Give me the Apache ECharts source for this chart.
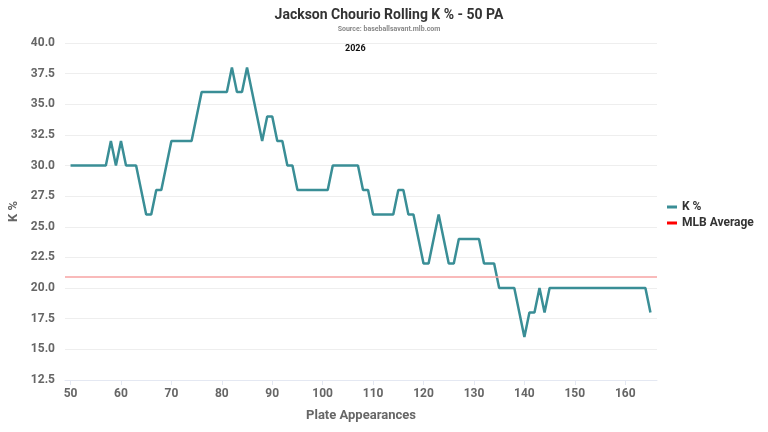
<!DOCTYPE html>
<html>
<head>
<meta charset="utf-8">
<script src="https://cdn.jsdelivr.net/npm/echarts@6/dist/echarts.min.js"></script>
<style>
  html, body { margin: 0; padding: 0; background: #fff; }
  #chart { width: 768px; height: 432px; }
</style>
</head>
<body>
<div id="chart"></div>
<script>
  // rolling K% over the last 50 PA, one value per plate appearance
  const startPA = 50;
  const kPct = [
    30, 30, 30, 30, 30, 30, 30, 30, 32, 30, // 50-59
    32, 30, 30, 30, 28, 26, 26, 28, 28, 30, // 60-69
    32, 32, 32, 32, 32, 34, 36, 36, 36, 36, // 70-79
    36, 36, 38, 36, 36, 38, 36, 34, 32, 34, // 80-89
    34, 32, 32, 30, 30, 28, 28, 28, 28, 28, // 90-99
    28, 28, 30, 30, 30, 30, 30, 30, 28, 28, // 100-109
    26, 26, 26, 26, 26, 28, 28, 26, 26, 24, // 110-119
    22, 22, 24, 26, 24, 22, 22, 24, 24, 24, // 120-129
    24, 24, 22, 22, 22, 20, 20, 20, 20, 18, // 130-139
    16, 18, 18, 20, 18, 20, 20, 20, 20, 20, // 140-149
    20, 20, 20, 20, 20, 20, 20, 20, 20, 20, // 150-159
    20, 20, 20, 20, 20, 18                  // 160-165
  ];
  const mlbAverage = 20.9;
  const xTicks = [50, 60, 70, 80, 90, 100, 110, 120, 130, 140, 150, 160];

  const seriesData = kPct.map((v, i) => [startPA + i, v]);

  const font = 'Roboto, sans-serif';
  const chart = echarts.init(document.getElementById('chart'));

  const option = {
    animation: false,
    textStyle: { fontFamily: font },
    title: {
      text: 'Jackson Chourio Rolling K % - 50 PA',
      subtext: 'Source: baseballsavant.mlb.com',
      left: 384,
      textAlign: 'center',
      top: 3,
      itemGap: 4,
      textStyle: { fontFamily: font, fontSize: 14, fontWeight: 'bold', color: '#333' },
      subtextStyle: { fontFamily: font, fontSize: 7, fontWeight: 'bold', color: '#888' },
    },
    graphic: [
      {
        type: 'text',
        left: 345,
        top: 44,
        style: { text: '2026', font: 'bold 9px ' + font, fill: '#111' },
      },
    ],
    legend: {
      orient: 'vertical',
      left: 662,
      top: 196,
      icon: 'rect',
      itemWidth: 10,
      itemHeight: 3,
      itemGap: 4,
      textStyle: { fontFamily: font, fontSize: 12, fontWeight: 'bold', color: '#333' },
      data: [
        { name: 'K %', itemStyle: { color: '#3a8e96' } },
        { name: 'MLB Average', itemStyle: { color: '#ff0000' } },
      ],
    },
    grid: { left: 65, right: 111, top: 43, bottom: 52, outerBoundsMode: 'none' },
    xAxis: {
      type: 'value',
      min: 48.9,
      max: 166.3,
      name: 'Plate Appearances',
      nameLocation: 'middle',
      nameGap: 29,
      nameTextStyle: { fontFamily: font, fontSize: 13, fontWeight: 'bold', color: '#666' },
      axisLine: { show: true, lineStyle: { color: '#e4e8f2', width: 1 } },
      axisTick: { show: true, customValues: xTicks, length: 5, lineStyle: { color: '#e4e8f2' } },
      axisLabel: {
        customValues: xTicks,
        fontFamily: font, fontSize: 12, fontWeight: 'bold', color: '#666', margin: 8,
      },
      splitLine: { show: false },
    },
    yAxis: {
      type: 'value',
      min: 12.5,
      max: 40,
      interval: 2.5,
      name: 'K %',
      nameLocation: 'middle',
      nameGap: 38,
      nameTextStyle: { fontFamily: font, fontSize: 13, fontWeight: 'bold', color: '#666' },
      axisLine: { show: false },
      axisTick: { show: false },
      axisLabel: {
        formatter: (v) => v.toFixed(1),
        fontFamily: font, fontSize: 12, fontWeight: 'bold', color: '#666', margin: 10,
      },
      splitLine: { lineStyle: { color: '#eeeeee', width: 1 } },
    },
    series: [
      {
        name: 'K %',
        type: 'line',
        data: seriesData,
        showSymbol: false,
        lineStyle: { color: '#3a8e96', width: 2.5 },
        itemStyle: { color: '#3a8e96' },
        z: 3,
      },
      {
        name: 'MLB Average',
        type: 'line',
        data: [],
        itemStyle: { color: '#ff0000' },
        markLine: {
          silent: true,
          symbol: 'none',
          label: { show: false },
          lineStyle: { color: '#f7a3a3', width: 1.5, type: 'solid' },
          data: [{ yAxis: mlbAverage }],
        },
        z: 2,
      },
    ],
  };

  chart.setOption(option);
</script>
</body>
</html>
